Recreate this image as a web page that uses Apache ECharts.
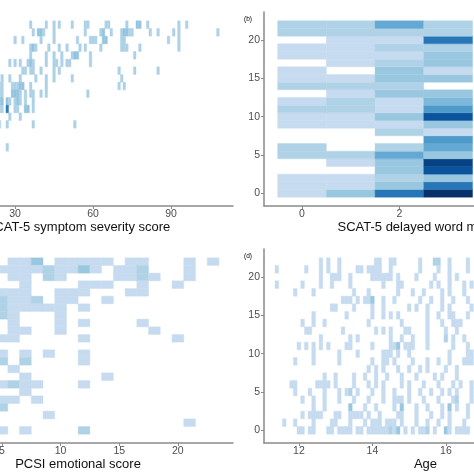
<!DOCTYPE html>
<html>
<head>
<meta charset="utf-8">
<script src="https://cdn.jsdelivr.net/npm/echarts@6/dist/echarts.min.js"></script>
<style>
  html, body { margin: 0; padding: 0; background: #fff; }
  #chart { width: 474px; height: 474px; }
</style>
</head>
<body>
<div id="chart"></div>
<script>
// shared y ticks (all four panels)
var yTicks = [0, 5, 10, 15, 20];

// (a) SCAT-5 symptom severity score: [y, [x of each observation]]
var obsSymptom = [
  [22, [36, 42, 45, 47, 52, 57, 58, 65, 66, 73, 77, 77, 78, 78, 81, 93, 96]],
  [21, [37, 39, 39, 40, 40, 41, 45, 57, 63, 64, 64, 67, 71, 72, 72, 73, 73, 74, 75, 82, 85, 91, 93, 108]],
  [20, [30, 33, 40, 45, 54, 59, 60, 61, 64, 64, 65, 65, 71, 72, 89, 93]],
  [19, [36, 37, 37, 38, 43, 47, 50, 55, 57, 63, 71, 72, 73, 78, 93]],
  [18, [36, 42, 45, 48, 52, 53, 53, 54, 54, 59, 76]],
  [17, [28, 30, 32, 35, 36, 36, 37, 42, 45, 46, 48, 50, 51, 59]],
  [16, [33, 34, 36, 37, 40, 45, 47, 70, 76, 85]],
  [15, [25, 28, 32, 38, 42, 45, 52, 71]],
  [14, [24, 25, 29, 30, 31, 32, 32, 33, 33, 36, 42, 70, 72]],
  [13, [24, 25, 29, 29, 30, 30, 31, 31, 32, 34, 36, 37, 40, 42, 58]],
  [12, [24, 24, 25, 25, 27, 27, 28, 30, 31, 31, 32, 34, 37]],
  [11, [24, 25, 27, 27, 27, 27, 27, 27, 30, 31, 34, 34, 35, 35, 37]],
  [10, [28, 32]],
  [9, [24, 27, 37, 53]],
  [6, [27]]
];

// (b) SCAT-5 delayed word memory: counts per column, y = 0..22
var wordMemX = [0, 1, 2, 3];
var wordMemCounts = [
  [1, 1, 1, 0, 0, 2, 2, 0, 0, 1, 1, 2, 1, 0, 2, 1, 1, 0, 1, 1, 0, 2, 2],
  [3, 1, 1, 0, 1, 2, 0, 0, 0, 1, 1, 2, 2, 1, 2, 1, 0, 1, 1, 1, 1, 2, 2],
  [8, 3, 2, 3, 3, 5, 2, 0, 2, 1, 3, 1, 1, 3, 2, 3, 3, 2, 1, 2, 1, 2, 5],
  [12, 8, 3, 10, 11, 3, 5, 6, 1, 3, 10, 6, 4, 3, 0, 3, 1, 3, 3, 2, 8, 2, 2]
];

// (c) PCSI emotional score: [y, [x of each observation]]
var obsEmotional = [
  [22, [6, 7, 8, 8, 8, 10, 11, 12, 13, 14, 16, 17, 21, 23]],
  [21, [5, 6, 7, 8, 9, 9, 10, 11, 12, 12, 12, 13, 15, 16, 17, 17, 21]],
  [20, [6, 7, 9, 9, 10, 15, 16, 17, 17, 18, 21]],
  [19, [7, 12, 13, 14, 17, 20]],
  [18, [5, 6, 7, 10, 11, 12, 16, 17]],
  [17, [5, 5, 6, 7, 8, 8, 10, 11, 14]],
  [16, [5, 5, 6, 7, 8, 9, 10, 12]],
  [15, [5, 5, 6, 10]],
  [14, [6, 10, 12, 17]],
  [13, [6, 7, 10, 18]],
  [12, [5, 6, 12, 20]],
  [10, [5, 7, 9, 12]],
  [9, [5, 5, 7, 7, 12]],
  [8, [6]],
  [7, [7, 14]],
  [6, [5, 6, 6, 7, 8, 12]],
  [5, [7]],
  [4, [5, 6, 8]],
  [3, [5, 5]],
  [2, [9]],
  [1, [21]],
  [0, [5, 7, 12, 12]]
];

// (d) Age, in tenths of a year: [y, [age*10 of each observation]]
var obsAge = [
  [22, [126, 128, 131, 141, 142, 145, 146, 153, 157, 157, 158, 158, 161, 166]],
  [21, [114, 122, 126, 128, 131, 136, 137, 139, 140, 141, 142, 145, 153, 158, 161, 166]],
  [20, [126, 129, 130, 131, 134, 140, 141, 142, 143, 144, 145, 147, 152, 157, 161, 163]],
  [19, [114, 121, 126, 129, 134, 143, 147, 148, 156, 158, 161, 165, 167]],
  [18, [119, 124, 135, 139, 147, 151, 154, 159, 161, 165]],
  [17, [132, 133, 134, 136, 138, 139, 140, 140, 140, 143, 146, 153, 156, 159, 162, 166]],
  [16, [129, 130, 135, 140, 143, 150, 152, 155, 159, 161, 167]],
  [15, [124, 133, 140, 143, 145, 147, 155, 158, 161, 162, 166]],
  [14, [121, 124, 127, 139, 148, 155, 159, 162, 163, 164]],
  [13, [122, 123, 132, 141, 143, 145, 149, 150, 155, 160, 163]],
  [12, [126, 134, 136, 145, 148, 151, 155, 160, 160, 162, 165]],
  [11, [120, 122, 124, 126, 128, 133, 134, 140, 145, 146, 147, 147, 147, 149, 150, 151, 155, 162, 166]],
  [10, [124, 131, 136, 143, 144, 145, 147, 150, 161, 166, 167]],
  [9, [119, 124, 131, 140, 143, 144, 146, 151, 155, 158, 161, 165, 166, 167]],
  [8, [139, 141, 143, 147, 150, 153, 155, 160, 163]],
  [7, [127, 130, 135, 138, 141, 144, 148, 152, 157, 159, 163]],
  [6, [118, 119, 125, 126, 127, 128, 130, 135, 139, 141, 143, 148, 150, 154, 158, 162, 164, 167]],
  [5, [119, 123, 127, 131, 133, 134, 134, 136, 140, 143, 146, 150, 153, 156, 159, 161, 163, 167]],
  [4, [121, 124, 127, 131, 135, 139, 143, 146, 147, 148, 150, 154, 158, 162, 163, 163, 167]],
  [3, [124, 127, 134, 134, 134, 138, 141, 146, 148, 148, 148, 152, 155, 159, 161, 161, 161, 163, 166]],
  [2, [121, 123, 124, 125, 126, 130, 131, 134, 135, 136, 137, 139, 142, 147, 148, 152, 156, 159, 161, 166]],
  [1, [116, 119, 124, 129, 130, 134, 138, 140, 141, 142, 144, 145, 146, 148, 152, 155, 158, 161, 165]],
  [0, [120, 121, 123, 124, 128, 129, 131, 132, 133, 134, 136, 137, 139, 140, 141, 142, 143, 144, 145, 145,
       146, 147, 147, 147, 149, 151, 153, 154, 155, 155, 157, 160, 160, 160, 161, 163, 164, 165, 166]]
];

var blues = ['#c6dbef', '#9ecae1', '#6baed6', '#4292c6', '#2171b5', '#08519c', '#08306b'];
var axisGray = '#8a8a8a';
var font = 'Liberation Sans, Arial, sans-serif';

// count observations into cells
function binCells(rows, scale) {
  var out = [];
  rows.forEach(function (row) {
    var counts = {};
    row[1].forEach(function (v) { counts[v] = (counts[v] || 0) + 1; });
    Object.keys(counts).forEach(function (k) {
      out.push([k * scale, row[0], counts[k]]);
    });
  });
  return out;
}

var wordMemCells = [];
wordMemCounts.forEach(function (col, i) {
  col.forEach(function (n, y) {
    if (n > 0) wordMemCells.push([wordMemX[i], y, n]);
  });
});

function cellRenderer(w) {
  return function (params, api) {
    var x = api.value(0), y = api.value(1);
    var p0 = api.coord([x - w / 2, y + 0.5]);
    var p1 = api.coord([x + w / 2, y - 0.5]);
    var c = api.visual('color');
    return {
      type: 'rect',
      shape: { x: p0[0], y: p0[1], width: p1[0] - p0[0], height: p1[1] - p0[1] },
      style: { fill: c, stroke: c, lineWidth: 0.4 }
    };
  };
}

function xAx(idx, min, max, ticks, name) {
  return {
    type: 'value', gridIndex: idx, min: min, max: max,
    name: name, nameLocation: 'middle', nameGap: 14,
    nameTextStyle: { fontSize: 13, color: '#111', fontFamily: font },
    axisLine: { onZero: false, lineStyle: { color: axisGray, width: 1.5 } },
    axisTick: { show: true, length: 3, customValues: ticks, lineStyle: { color: axisGray } },
    axisLabel: { customValues: ticks, margin: 3, fontSize: 10.5, color: '#4d4d4d', fontFamily: font },
    splitLine: { show: false }
  };
}

function yAx(idx) {
  return {
    type: 'value', gridIndex: idx, min: -1.65, max: 23.65,
    axisLine: { show: true, onZero: false, lineStyle: { color: axisGray, width: 1.5 } },
    axisTick: { show: true, length: 3, customValues: yTicks, lineStyle: { color: axisGray } },
    axisLabel: { customValues: yTicks, margin: 4, fontSize: 10.5, color: '#4d4d4d', fontFamily: font },
    splitLine: { show: false }
  };
}

var chart = echarts.init(document.getElementById('chart'));
var option = {
  animation: false,
  backgroundColor: '#fff',
  textStyle: { fontFamily: font },
  title: [
    { text: '(b)', left: 239, top: 11, textStyle: { fontSize: 6.5, fontWeight: 'normal', color: '#000' } },
    { text: '(d)', left: 239, top: 248, textStyle: { fontSize: 6.5, fontWeight: 'normal', color: '#000' } }
  ],
  grid: [
    { left: -77, top: 12, width: 310, height: 194, outerBoundsMode: 'none' },
    { left: 264, top: 12, width: 323, height: 194, outerBoundsMode: 'none' },
    { left: -77, top: 249, width: 310, height: 194, outerBoundsMode: 'none' },
    { left: 264, top: 249, width: 323, height: 194, outerBoundsMode: 'none' }
  ],
  xAxis: [
    xAx(0, -5.4, 113.8, [0, 30, 60, 90], 'SCAT-5 symptom severity score'),
    xAx(1, -0.78, 5.85, [0, 2, 4], 'SCAT-5 delayed word memory'),
    xAx(2, -1.73, 24.7, [0, 5, 10, 15, 20], 'PCSI emotional score'),
    xAx(3, 11.05, 19.84, [12, 14, 16, 18], 'Age')
  ],
  yAxis: [yAx(0), yAx(1), yAx(2), yAx(3)],
  visualMap: [
    { show: false, type: 'continuous', min: 0, max: 10, dimension: 2,
      seriesIndex: [0], inRange: { color: blues } },
    { show: false, type: 'continuous', min: 1, max: 12, dimension: 2,
      seriesIndex: [1, 2, 3], inRange: { color: blues } }
  ],
  series: [
    { type: 'custom', xAxisIndex: 0, yAxisIndex: 0, renderItem: cellRenderer(1),
      encode: { x: 0, y: 1 }, data: binCells(obsSymptom, 1) },
    { type: 'custom', xAxisIndex: 1, yAxisIndex: 1, renderItem: cellRenderer(1),
      encode: { x: 0, y: 1 }, data: wordMemCells },
    { type: 'custom', xAxisIndex: 2, yAxisIndex: 2, renderItem: cellRenderer(1),
      encode: { x: 0, y: 1 }, data: binCells(obsEmotional, 1) },
    { type: 'custom', xAxisIndex: 3, yAxisIndex: 3, renderItem: cellRenderer(0.1),
      encode: { x: 0, y: 1 }, data: binCells(obsAge, 0.1) }
  ]
};
chart.setOption(option);
</script>
</body>
</html>
